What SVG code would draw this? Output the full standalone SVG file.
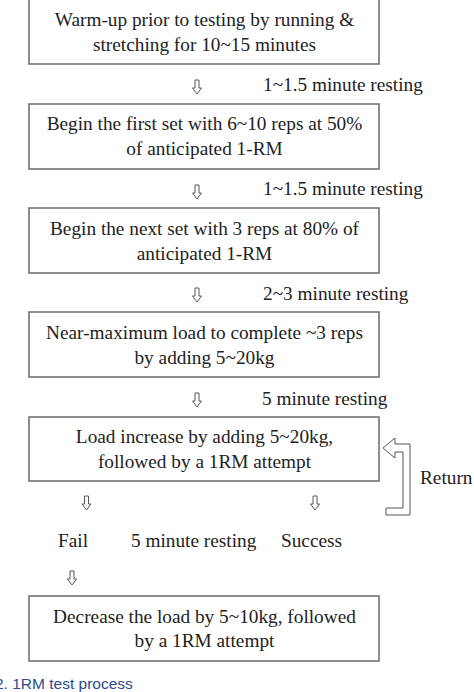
<svg xmlns="http://www.w3.org/2000/svg" xmlns:xlink="http://www.w3.org/1999/xlink" width="474" height="692" viewBox="0 0 474 692">
<style>
  .box { fill: #ffffff; stroke: #6a6a6a; stroke-width: 1.5; }
  .t { font-family: "Liberation Serif", "Times New Roman", serif; font-size: 19.3px; fill: #222222; }
  .c { text-anchor: middle; }
  .arr { fill: #ffffff; stroke: #555555; stroke-width: 1; stroke-linejoin: miter; }
  .cap { font-family: "Liberation Sans", Arial, sans-serif; font-size: 15.5px; fill: #2d4a8a; }
</style>
<defs>
  <path id="down" d="M -2 0 L 2 0 L 2 8 L 4.5 8 L 0 14 L -4.5 8 L -2 8 Z"/>
</defs>
<rect width="474" height="692" fill="#ffffff"/>

<g id="connectors">
  <use xlink:href="#down" class="arr" x="197" y="80"/>
  <use xlink:href="#down" class="arr" x="197" y="185"/>
  <use xlink:href="#down" class="arr" x="197" y="288"/>
  <use xlink:href="#down" class="arr" x="197" y="393"/>
  <use xlink:href="#down" class="arr" x="86.5" y="496"/>
  <use xlink:href="#down" class="arr" x="315" y="496"/>
  <use xlink:href="#down" class="arr" x="72" y="571"/>
  <path id="return-arrow" class="arr" d="M 383 448 L 395 438 L 395 444 L 410 444 L 410 515 L 386 515 L 386 508 L 403 508 L 403 452 L 395 452 L 395 458 Z"/>
</g>

<g id="labels">
  <text class="t" x="263" y="91">1~1.5 minute resting</text>
  <text class="t" x="263" y="195">1~1.5 minute resting</text>
  <text class="t" x="263" y="300">2~3 minute resting</text>
  <text class="t" x="262" y="405">5 minute resting</text>
  <text class="t" x="420" y="484">Return</text>
  <text class="t" x="58" y="547">Fail</text>
  <text class="t" x="131" y="547">5 minute resting</text>
  <text class="t" x="281" y="547">Success</text>
</g>

<g id="node1">
  <rect class="box" x="29" y="-1" width="350" height="65"/>
  <text class="t c" x="204.5" y="26">Warm-up prior to testing by running &amp;</text>
  <text class="t c" x="204.5" y="51">stretching for 10~15 minutes</text>
</g>
<g id="node2">
  <rect class="box" x="29" y="104" width="350" height="65"/>
  <text class="t c" x="204.5" y="130">Begin the first set with 6~10 reps at 50%</text>
  <text class="t c" x="204.5" y="155">of anticipated 1-RM</text>
</g>
<g id="node3">
  <rect class="box" x="29" y="208" width="350" height="65"/>
  <text class="t c" x="204.5" y="235">Begin the next set with 3 reps at 80% of</text>
  <text class="t c" x="204.5" y="260">anticipated 1-RM</text>
</g>
<g id="node4">
  <rect class="box" x="29" y="312" width="350" height="65"/>
  <text class="t c" x="204.5" y="339">Near-maximum load to complete ~3 reps</text>
  <text class="t c" x="204.5" y="364">by adding 5~20kg</text>
</g>
<g id="node5">
  <rect class="box" x="29" y="417" width="350" height="64"/>
  <text class="t c" x="204.5" y="443">Load increase by adding 5~20kg,</text>
  <text class="t c" x="204.5" y="468">followed by a 1RM attempt</text>
</g>
<g id="node6">
  <rect class="box" x="29" y="596" width="350" height="65"/>
  <text class="t c" x="204.5" y="623">Decrease the load by 5~10kg, followed</text>
  <text class="t c" x="204.5" y="647">by a 1RM attempt</text>
</g>

<text class="cap" x="-5" y="689">2. 1RM test process</text>
</svg>
